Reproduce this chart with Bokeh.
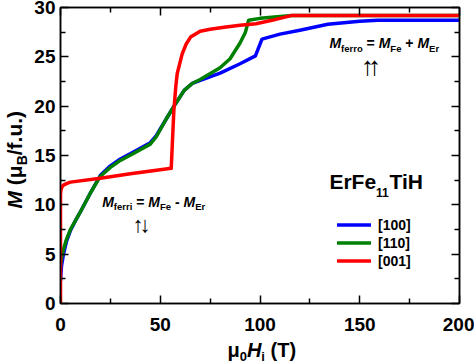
import math
from bokeh.plotting import figure
from bokeh.models import (Range1d, LinearAxis, FixedTicker, Label, Legend, LegendItem)
from bokeh.layouts import row, column
from bokeh.embed import file_html
from bokeh.resources import INLINE

# ---------------- data ----------------
h_100 = [0, 0.5, 1.5, 3, 5, 7.5, 10, 15, 20, 25, 30, 37, 45, 48, 53, 57.5, 62, 66,
         80, 90, 97.7, 101, 110, 120, 134, 150, 159, 200]
m_100 = [2.3, 3.8, 5.0, 6.3, 7.4, 8.4, 9.3, 11.2, 13.0, 13.95, 14.65, 15.4, 16.3, 17.0,
         18.7, 20.2, 21.6, 22.3, 23.35, 24.3, 25.1, 26.8, 27.3, 27.7, 28.3, 28.6, 28.7, 28.7]

h_110 = [0, 0.5, 1.5, 3, 5, 7.5, 10, 15, 20, 25, 30, 37, 45, 48, 53, 57.5, 62, 66,
         70, 80, 85, 90, 92.7, 94.3, 100, 116, 200]
m_110 = [3.9, 4.6, 5.5, 6.5, 7.5, 8.4, 9.3, 11.2, 12.9, 13.8, 14.5, 15.25, 16.15, 16.9,
         18.7, 20.2, 21.6, 22.3, 22.7, 23.9, 24.8, 26.4, 27.5, 28.7, 28.9, 29.2, 29.2]

h_001 = [0, 0, 0.2, 0.7, 1.5, 3, 5, 20, 35, 50, 55.5, 56.8, 57.8, 58.5, 61, 63, 65.2,
         70, 75, 82, 90, 98, 106, 113, 116, 200]
m_001 = [0, 11.0, 11.5, 11.8, 12.0, 12.15, 12.3, 12.7, 13.15, 13.55, 13.7, 19.5, 22.0,
         23.3, 25.3, 26.3, 27.0, 27.6, 27.8, 28.0, 28.2, 28.35, 28.7, 29.05, 29.2, 29.2]

series_labels = ["[100]", "[110]", "[001]"]
series_colors = ["#0000ff", "#008000", "#ff0000"]

x_ticks = [0, 50, 100, 150, 200]
x_minor = [25, 75, 125, 175]
y_ticks = [0, 5, 10, 15, 20, 25, 30]
y_minor = [2.5, 7.5, 12.5, 17.5, 22.5, 27.5]

FONT = "Liberation Sans"
BASE_FIX = 0.27   # bokeh draws "alphabetic" text a little low; lift by this fraction of size

REG = {' ': 278, '(': 333, ')': 333, '+': 584, '=': 584, '-': 333, '.': 278, '/': 278,
       '0': 556, '1': 556, 'B': 667, 'E': 667, 'F': 611, 'H': 722, 'M': 833, 'T': 611,
       'e': 556, 'f': 278, 'i': 222, 'o': 556, 'r': 333, 'u': 556, 'μ': 576}
BOLD = {' ': 278, '(': 333, ')': 333, '+': 584, '=': 584, '-': 333, '.': 278, '/': 278,
        '0': 556, '1': 556, 'B': 722, 'E': 667, 'F': 611, 'H': 722, 'M': 833, 'T': 611,
        'e': 556, 'f': 333, 'i': 278, 'o': 611, 'r': 389, 'u': 611, 'μ': 611}


def rich(fig, parts, x, y, angle=0.0, x_units="data", y_units="data"):
    adv = 0.0
    for text, size, bold, italic, shift in parts:
        met = BOLD if bold else REG
        w = sum(met.get(c, 556) for c in text) * size / 1000.0
        if text.strip():
            style = ("bold " if bold else "") + ("italic" if italic else "")
            style = style.strip() or "normal"
            lift = BASE_FIX * size
            if angle == 0:
                xo, yo = adv, -shift + lift
            else:
                xo, yo = shift - lift, adv
            fig.add_layout(Label(x=x, y=y, x_units=x_units, y_units=y_units,
                                 x_offset=xo, y_offset=yo, text=text, angle=angle,
                                 text_font=FONT, text_font_size=f"{size}px",
                                 text_font_style=style, text_align="left",
                                 text_baseline="alphabetic", text_color="black"))
        adv += w


def style_axis(ax, tick_in, minor_in, line):
    ax.major_tick_in = tick_in
    ax.major_tick_out = 0
    ax.minor_tick_in = minor_in
    ax.minor_tick_out = 0
    ax.axis_line_width = 1.5
    ax.major_tick_line_width = 1.5
    ax.minor_tick_line_width = 1.5
    ax.axis_line_color = "black" if line else None
    ax.major_tick_line_color = "black" if tick_in else None
    ax.minor_tick_line_color = "black" if minor_in else None


def show_labels(ax, standoff):
    ax.major_label_text_font = FONT
    ax.major_label_text_font_size = "19px"
    ax.major_label_text_font_style = "bold"
    ax.major_label_text_color = "black"
    ax.major_label_standoff = standoff


def hide_labels(ax):
    ax.major_label_text_font_size = "0px"
    ax.major_label_standoff = 0


YLAB_W = 28
MAIN_W = 474 - YLAB_W
MAIN_H = 314
XLAB_H = 361 - MAIN_H
LEFT_B = 60 - YLAB_W
RIGHT_B = 15

x_rng = Range1d(0, 200)

# ---------------- main plot ----------------
p = figure(width=MAIN_W, height=MAIN_H,
           min_border_left=LEFT_B, min_border_right=RIGHT_B, min_border_top=7,
           min_border_bottom=MAIN_H - 303,
           x_range=x_rng, y_range=Range1d(0, 30),
           output_backend="svg", toolbar_location=None, x_axis_location=None,
           y_axis_location=None)
p.title = None
p.xgrid.visible = False
p.ygrid.visible = False
p.outline_line_color = "black"
p.outline_line_width = 1.5
p.background_fill_color = "white"
p.border_fill_color = "white"

for loc, tk, mn, lab in [("below", x_ticks, x_minor, False), ("left", y_ticks, y_minor, True),
                         ("above", x_ticks, x_minor, False), ("right", y_ticks, y_minor, False)]:
    ax = LinearAxis(ticker=FixedTicker(ticks=tk, minor_ticks=mn))
    style_axis(ax, 8, 5, True)
    if lab:
        show_labels(ax, 5)
    else:
        hide_labels(ax)
    p.add_layout(ax, loc)

renderers = []
for hx, my, col in [(h_100, m_100, series_colors[0]),
                    (h_110, m_110, series_colors[1]),
                    (h_001, m_001, series_colors[2])]:
    r = p.line(hx, my, line_color=col, line_width=3.5, line_join="round", line_cap="round")
    renderers.append(r)

legend = Legend(items=[LegendItem(label=lab, renderers=[r]) for lab, r in zip(series_labels, renderers)],
                location=(277, 34), orientation="vertical")
legend.border_line_color = None
legend.background_fill_alpha = 0
legend.padding = 0
legend.margin = 0
legend.spacing = 1
legend.glyph_width = 34
legend.glyph_height = 17
legend.label_height = 17
legend.label_standoff = 7
legend.label_text_font = FONT
legend.label_text_font_size = "14px"
legend.label_text_font_style = "bold"
legend.label_text_color = "black"
p.add_layout(legend, "center")


def arrow(ch, x, y, size):
    p.add_layout(Label(x=x, y=y, text=ch, text_font=FONT, text_font_size=f"{size}px",
                       text_font_style="bold",
                       text_align="center", text_baseline="middle", text_color="black"))


rich(p, [("M", 14, True, True, 0), ("ferro", 9.5, True, False, 3.5), (" ", 14, True, False, 0),
         ("=", 14, True, False, 0), (" ", 14, True, False, 0), ("M", 14, True, True, 0),
         ("Fe", 9.5, True, False, 3.5), (" ", 14, True, False, 0), ("+", 14, True, False, 0),
         (" ", 14, True, False, 0), ("M", 14, True, True, 0), ("Er", 9.5, True, False, 3.5)],
     134.8, 25.98)
arrow("↑", 153.9, 24.1, 26)
arrow("↑", 157.4, 24.1, 26)

rich(p, [("M", 14, True, True, 0), ("ferri", 9.5, True, False, 3.5), (" ", 14, True, False, 0),
         ("=", 14, True, False, 0), (" ", 14, True, False, 0), ("M", 14, True, True, 0),
         ("Fe", 9.5, True, False, 3.5), (" ", 14, True, False, 0), ("-", 14, True, False, 0),
         (" ", 14, True, False, 0), ("M", 14, True, True, 0), ("Er", 9.5, True, False, 3.5)],
     20.9, 9.93)
arrow("↑", 38.8, 7.96, 22)
arrow("↓", 42.4, 7.96, 22)

rich(p, [("ErFe", 21, True, False, 0), ("11", 12, True, False, 8), ("TiH", 21, True, False, 0)],
     134.8, 11.76)

# ---------------- y-label strip ----------------
ylab = figure(width=YLAB_W, height=361, x_range=Range1d(0, YLAB_W), y_range=Range1d(0, 361),
              min_border=0, output_backend="svg", toolbar_location=None,
              x_axis_location=None, y_axis_location=None)
ylab.title = None
ylab.xgrid.visible = False
ylab.ygrid.visible = False
ylab.outline_line_color = None
ylab.border_fill_color = "white"
rich(ylab, [("M", 21, True, True, 0), (" ", 21, True, False, 0), ("(μ", 21, True, False, 0),
            ("B", 14, True, False, 5), ("/f.u.)", 21, True, False, 0)],
     20, 153, angle=math.pi / 2)

# ---------------- x tick labels + x-label strip ----------------
xlab = figure(width=MAIN_W, height=XLAB_H, x_range=x_rng, y_range=Range1d(0, 1),
              min_border_left=LEFT_B, min_border_right=RIGHT_B, min_border_top=0,
              min_border_bottom=0, output_backend="svg", toolbar_location=None,
              x_axis_location=None, y_axis_location=None)
xlab.title = None
xlab.xgrid.visible = False
xlab.ygrid.visible = False
xlab.outline_line_color = None
xlab.border_fill_color = "white"
xlab.background_fill_color = "white"
xax = LinearAxis(ticker=FixedTicker(ticks=x_ticks, minor_ticks=x_minor))
style_axis(xax, 0, 0, False)
show_labels(xax, 4)
xlab.add_layout(xax, "above")

rich(xlab, [("μ", 20, True, False, 0), ("0", 13, True, False, 5), ("H", 20, True, True, 0),
            ("i", 13, True, False, 5), (" ", 20, True, False, 0), ("(T)", 20, True, False, 0)],
     83.7, 6, y_units="screen")

layout = row(ylab, column(p, xlab, spacing=0), spacing=0)

open("out.html", "w").write(file_html(layout, INLINE))
